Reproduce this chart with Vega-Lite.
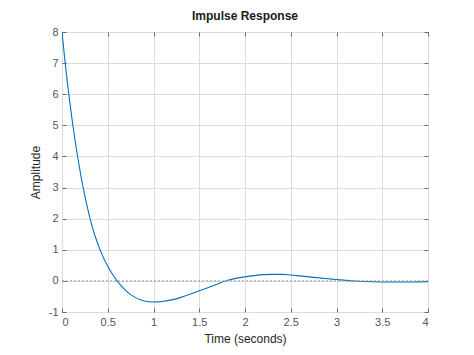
{
  "$schema": "https://vega.github.io/schema/vega-lite/v6.json",
  "width": 366,
  "height": 280,
  "autosize": {"type": "none"},
  "padding": {"left": 62, "top": 32, "right": 46, "bottom": 43},
  "background": "white",
  "title": {"text": "Impulse Response", "font": "Liberation Sans", "fontSize": 12, "fontWeight": "bold", "color": "#1a1a1a", "offset": 3},
  "config": {
    "view": {"stroke": "#6b6b6b", "strokeWidth": 1},
    "axis": {"labelFont": "Liberation Sans", "titleFont": "Liberation Sans", "labelFontSize": 11, "titleFontSize": 12, "labelColor": "#555555", "titleColor": "#262626", "titleFontWeight": "normal", "domain": false, "tickColor": "#6b6b6b", "gridColor": "#dcdcdc", "gridOpacity": 1}
  },
  "data": {"values": [
    {"t": 0, "y": 8},
    {"t": 0.02, "y": 7.42},
    {"t": 0.04, "y": 6.87},
    {"t": 0.06, "y": 6.35},
    {"t": 0.08, "y": 5.87},
    {"t": 0.1, "y": 5.41},
    {"t": 0.12, "y": 4.98},
    {"t": 0.14, "y": 4.57},
    {"t": 0.16, "y": 4.19},
    {"t": 0.18, "y": 3.83},
    {"t": 0.2, "y": 3.49},
    {"t": 0.22, "y": 3.17},
    {"t": 0.25, "y": 2.73},
    {"t": 0.28, "y": 2.33},
    {"t": 0.31, "y": 1.97},
    {"t": 0.34, "y": 1.65},
    {"t": 0.37, "y": 1.37},
    {"t": 0.4, "y": 1.12},
    {"t": 0.43, "y": 0.9},
    {"t": 0.46, "y": 0.7},
    {"t": 0.5, "y": 0.47},
    {"t": 0.55, "y": 0.22},
    {"t": 0.6, "y": 0.01},
    {"t": 0.65, "y": -0.17},
    {"t": 0.7, "y": -0.32},
    {"t": 0.75, "y": -0.44},
    {"t": 0.8, "y": -0.53},
    {"t": 0.85, "y": -0.6},
    {"t": 0.9, "y": -0.645},
    {"t": 0.95, "y": -0.672},
    {"t": 1.0, "y": -0.68},
    {"t": 1.05, "y": -0.675},
    {"t": 1.1, "y": -0.66},
    {"t": 1.2, "y": -0.61},
    {"t": 1.3, "y": -0.53},
    {"t": 1.4, "y": -0.43},
    {"t": 1.5, "y": -0.32},
    {"t": 1.6, "y": -0.21},
    {"t": 1.7, "y": -0.1},
    {"t": 1.8, "y": 0.01},
    {"t": 1.9, "y": 0.08},
    {"t": 2.0, "y": 0.13},
    {"t": 2.1, "y": 0.17},
    {"t": 2.2, "y": 0.2},
    {"t": 2.3, "y": 0.21},
    {"t": 2.4, "y": 0.21},
    {"t": 2.5, "y": 0.19},
    {"t": 2.6, "y": 0.16},
    {"t": 2.7, "y": 0.13},
    {"t": 2.8, "y": 0.1},
    {"t": 2.9, "y": 0.07},
    {"t": 3.0, "y": 0.045},
    {"t": 3.1, "y": 0.015},
    {"t": 3.2, "y": -0.005},
    {"t": 3.3, "y": -0.02},
    {"t": 3.4, "y": -0.03},
    {"t": 3.5, "y": -0.035},
    {"t": 3.6, "y": -0.038},
    {"t": 3.7, "y": -0.037},
    {"t": 3.8, "y": -0.035},
    {"t": 3.9, "y": -0.032},
    {"t": 4.0, "y": -0.03}
  ]},
  "resolve": {"axis": {"x": "independent", "y": "independent"}},
  "layer": [
    {
      "mark": {"type": "line", "color": "#0072BD", "strokeWidth": 1.1, "interpolate": "monotone", "clip": true},
      "encoding": {
        "x": {"field": "t", "type": "quantitative", "scale": {"domain": [0, 4], "nice": false},
          "axis": {"title": "Time (seconds)", "values": [0, 0.5, 1, 1.5, 2, 2.5, 3, 3.5, 4], "format": "~g", "grid": true, "tickSize": -4, "labelPadding": 8, "titlePadding": 6}},
        "y": {"field": "y", "type": "quantitative", "scale": {"domain": [-1, 8], "nice": false},
          "axis": {"title": "Amplitude", "values": [-1, 0, 1, 2, 3, 4, 5, 6, 7, 8], "format": "~g", "labelExpr": "replace(datum.label, '−', '-')", "grid": true, "tickSize": -4, "labelPadding": 8, "titlePadding": 6}}
      }
    },
    {
      "data": {"values": [{"z": 0}]},
      "mark": {"type": "rule", "color": "#9a9a9a", "strokeDash": [2, 2], "strokeWidth": 1},
      "encoding": {
        "y": {"field": "z", "type": "quantitative", "scale": {"domain": [-1, 8], "nice": false},
          "axis": {"orient": "right", "title": null, "values": [-1, 0, 1, 2, 3, 4, 5, 6, 7, 8], "labels": false, "grid": false, "tickSize": -4}}
      }
    },
    {
      "data": {"values": [{"z": 0}]},
      "mark": {"type": "rule", "opacity": 0},
      "encoding": {
        "x": {"field": "z", "type": "quantitative", "scale": {"domain": [0, 4], "nice": false},
          "axis": {"orient": "top", "title": null, "values": [0, 0.5, 1, 1.5, 2, 2.5, 3, 3.5, 4], "labels": false, "grid": false, "tickSize": -4}}
      }
    }
  ]
}
